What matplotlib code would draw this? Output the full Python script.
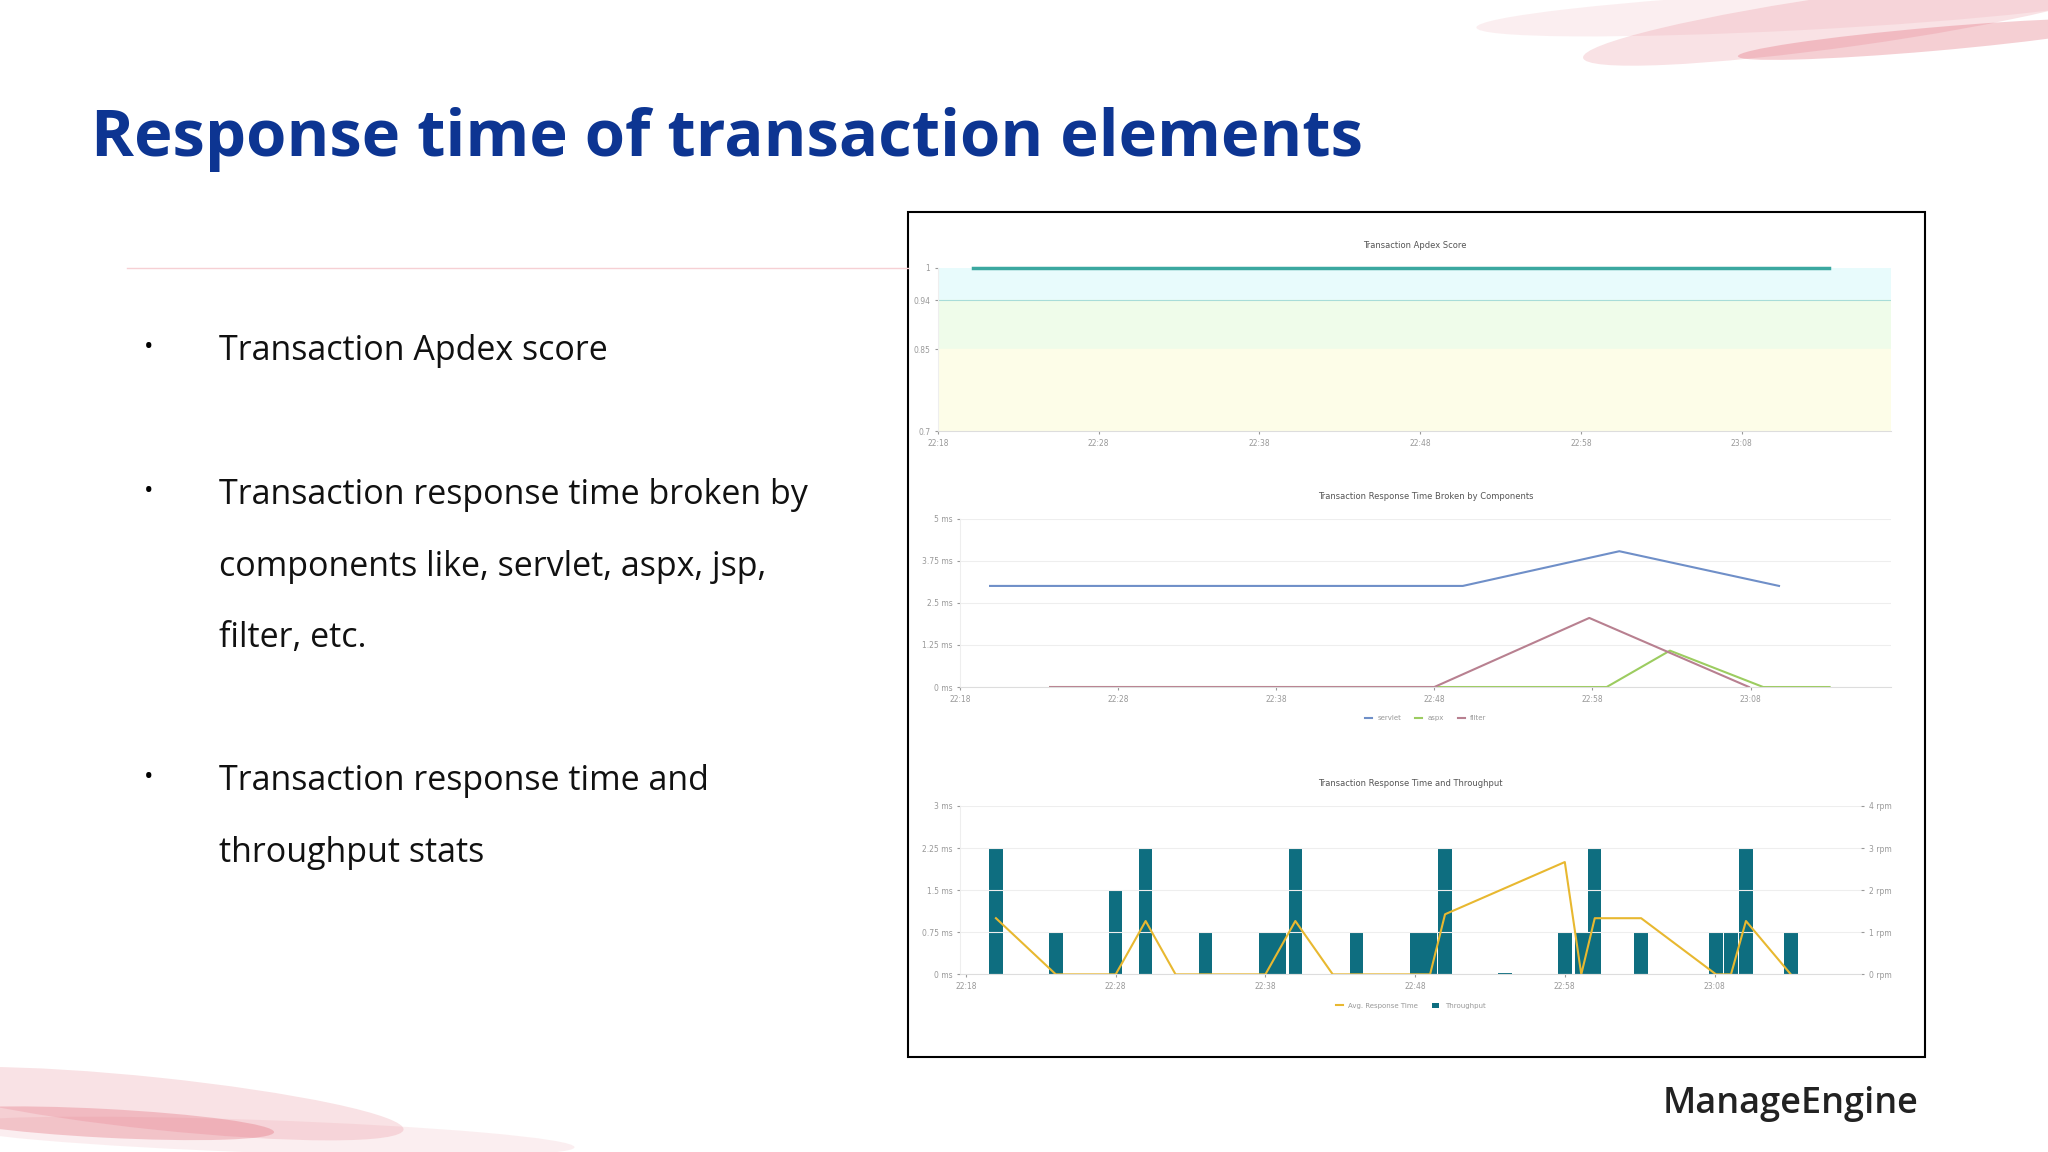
import matplotlib
matplotlib.use("Agg")
import matplotlib.pyplot as plt
import numpy as np
from matplotlib.patches import Rectangle, Ellipse

# ---------------- data ----------------
title = "Response time of transaction elements"
bullets = ["Transaction Apdex score",
           "Transaction response time broken by\ncomponents like, servlet, aspx, jsp,\nfilter, etc.",
           "Transaction response time and\nthroughput stats"]
time_ticks = [0, 10, 20, 30, 40, 50]
time_labels = ["22:18", "22:28", "22:38", "22:48", "22:58", "23:08"]

apdex_x = [2.2, 55.4]
apdex_y = [1.0, 1.0]

servlet_x = [1.9, 31.8, 41.7, 51.8]
servlet_y = [3.0, 3.0, 4.03, 3.0]
filter_x = [5.7, 30.0, 39.8, 49.9]
filter_y = [0.0, 0.0, 2.05, 0.0]
aspx_x = [5.7, 40.9, 44.9, 50.8, 55.0]
aspx_y = [0.0, 0.0, 1.08, 0.0, 0.0]

thr_x = [2.0, 6.0, 10.0, 12.0, 16.0, 20.0, 20.9, 22.0, 26.1, 30.1, 31.0, 32.0,
         36.0, 40.0, 41.1, 42.0, 45.1, 50.1, 51.1, 52.1, 55.1]
thr_y = [3, 1, 2, 3, 1, 1, 1, 3, 1, 1, 1, 3, 0.03, 1, 1, 3, 1, 1, 1, 3, 1]
resp_x = [2.0, 6.0, 10.0, 12.0, 14.0, 16.0, 20.0, 22.0, 24.5, 26.1, 30.1, 31.0,
          32.0, 40.0, 41.1, 42.0, 45.1, 50.1, 51.1, 52.1, 55.1]
resp_y = [1.0, 0.0, 0.0, 0.95, 0.0, 0.0, 0.0, 0.95, 0.0, 0.0, 0.0, 0.0,
          1.07, 2.0, 0.0, 1.0, 1.0, 0.0, 0.0, 0.95, 0.0]

W, H = 1568.0, 882.0
def ax_at(x0, y0, x1, y1):
    return fig.add_axes([x0 / W, 1 - y1 / H, (x1 - x0) / W, (y1 - y0) / H])

fig = plt.figure(figsize=(20.48, 11.52), dpi=100)
fig.patch.set_facecolor("white")

# background decoration
bg = fig.add_axes([0, 0, 1, 1]); bg.set_xlim(0, W); bg.set_ylim(H, 0); bg.axis("off")
for cx, cy, w, h, a, al in [(1420, 15, 420, 40, -8, 0.18), (1480, 30, 300, 18, -5, 0.3),
                             (1380, 8, 500, 30, -3, 0.1)]:
    bg.add_patch(Ellipse((cx, cy), w, h, angle=a, color="#e06070", alpha=al, lw=0))
for cx, cy, w, h, a, al in [(120, 845, 380, 40, 6, 0.18), (80, 860, 260, 22, 3, 0.3),
                             (200, 870, 480, 25, 2, 0.1)]:
    bg.add_patch(Ellipse((cx, cy), w, h, angle=a, color="#e06070", alpha=al, lw=0))
bg.plot([97, 695], [205, 205], color="#f6d0d4", lw=1)
bg.text(70, 107, title, fontsize=47, fontweight="bold", color="#0d3592",
        family="Open Sans", va="center", ha="left")
for y, t in zip([266, 376, 595], bullets):
    bg.text(110, y, "•", fontsize=18, va="center", family="Open Sans")
    bg.text(168, y - 10, t, fontsize=24.5, va="top", ha="left", family="Open Sans",
            linespacing=2.45, color="#111111")
bg.text(1273, 845, "ManageEngine", fontsize=26, color="#222222", family="Open Sans",
        fontweight="semibold", va="center", ha="left")
bg.add_patch(Rectangle((695, 162), 779, 647, fill=False, ec="black", lw=1.5))

tick_kw = dict(labelsize=5.5, colors="#999999", length=2)

# ---- apdex ----
a1 = ax_at(718, 205, 1448, 330)
a1.set_xlim(0, 59.3); a1.set_ylim(0.7, 1.0)
a1.axhspan(0.94, 1.0, color="#e8fbfc"); a1.axhspan(0.85, 0.94, color="#effcea")
a1.axhspan(0.7, 0.85, color="#fdfde8")
a1.axhline(0.94, color="#a8dcd8", lw=0.8)
a1.plot(apdex_x, apdex_y, color="#3ba8a0", lw=2.5, clip_on=False)
a1.set_yticks([0.7, 0.85, 0.94, 1.0]); a1.set_yticklabels(["0.7", "0.85", "0.94", "1"])
a1.set_xticks(time_ticks); a1.set_xticklabels(time_labels)
a1.set_title("Transaction Apdex Score", fontsize=6, color="#555555", pad=14)

# ---- components ----
a2 = ax_at(735, 397, 1448, 526)
a2.set_xlim(0, 58.9); a2.set_ylim(0, 5)
a2.plot(servlet_x, servlet_y, color="#6f8fc8", lw=1.5, label="servlet")
a2.plot(aspx_x, aspx_y, color="#9ccc60", lw=1.5, label="aspx")
a2.plot(filter_x, filter_y, color="#b88090", lw=1.5, label="filter")
a2.set_yticks([0, 1.25, 2.5, 3.75, 5]); a2.set_yticklabels(["0 ms", "1.25 ms", "2.5 ms", "3.75 ms", "5 ms"])
a2.set_xticks(time_ticks); a2.set_xticklabels(time_labels)
a2.grid(axis="y", color="#eeeeee", lw=0.8)
a2.set_title("Transaction Response Time Broken by Components", fontsize=6, color="#555555", pad=14)
a2.legend(loc="upper center", bbox_to_anchor=(0.5, -0.13), ncol=3, frameon=False,
          fontsize=5, labelcolor="#999999", handlelength=1)

# ---- throughput ----
a3 = ax_at(735, 617, 1425, 746)
a3.set_xlim(-0.4, 59.8); a3.set_ylim(0, 3)
a3b = a3.twinx(); a3b.set_ylim(0, 4)
bars = a3b.bar(thr_x, thr_y, width=0.9, color="#0e6e80", label="Throughput")
ln, = a3.plot(resp_x, resp_y, color="#e8b830", lw=1.5, label="Avg. Response Time")
a3.set_zorder(a3b.get_zorder() + 1); a3.patch.set_visible(False)
a3.set_yticks([0, 0.75, 1.5, 2.25, 3]); a3.set_yticklabels(["0 ms", "0.75 ms", "1.5 ms", "2.25 ms", "3 ms"])
a3b.set_yticks([0, 1, 2, 3, 4]); a3b.set_yticklabels(["0 rpm", "1 rpm", "2 rpm", "3 rpm", "4 rpm"])
a3.set_xticks(time_ticks); a3.set_xticklabels(time_labels)
a3.grid(axis="y", color="#eeeeee", lw=0.8)
a3.set_title("Transaction Response Time and Throughput", fontsize=6, color="#555555", pad=14)
a3.legend([ln, bars], ["Avg. Response Time", "Throughput"], loc="upper center",
          bbox_to_anchor=(0.5, -0.13), ncol=2, frameon=False, fontsize=5,
          labelcolor="#999999", handlelength=1)

for a in (a1, a2, a3, a3b):
    a.tick_params(**tick_kw)
    for s in a.spines.values():
        s.set_visible(False)
for a in (a1, a2, a3):
    a.spines["bottom"].set_visible(True); a.spines["bottom"].set_color("#dddddd")
    a.spines["left"].set_visible(True); a.spines["left"].set_color("#eeeeee")

fig.savefig("out.png", dpi=100)
